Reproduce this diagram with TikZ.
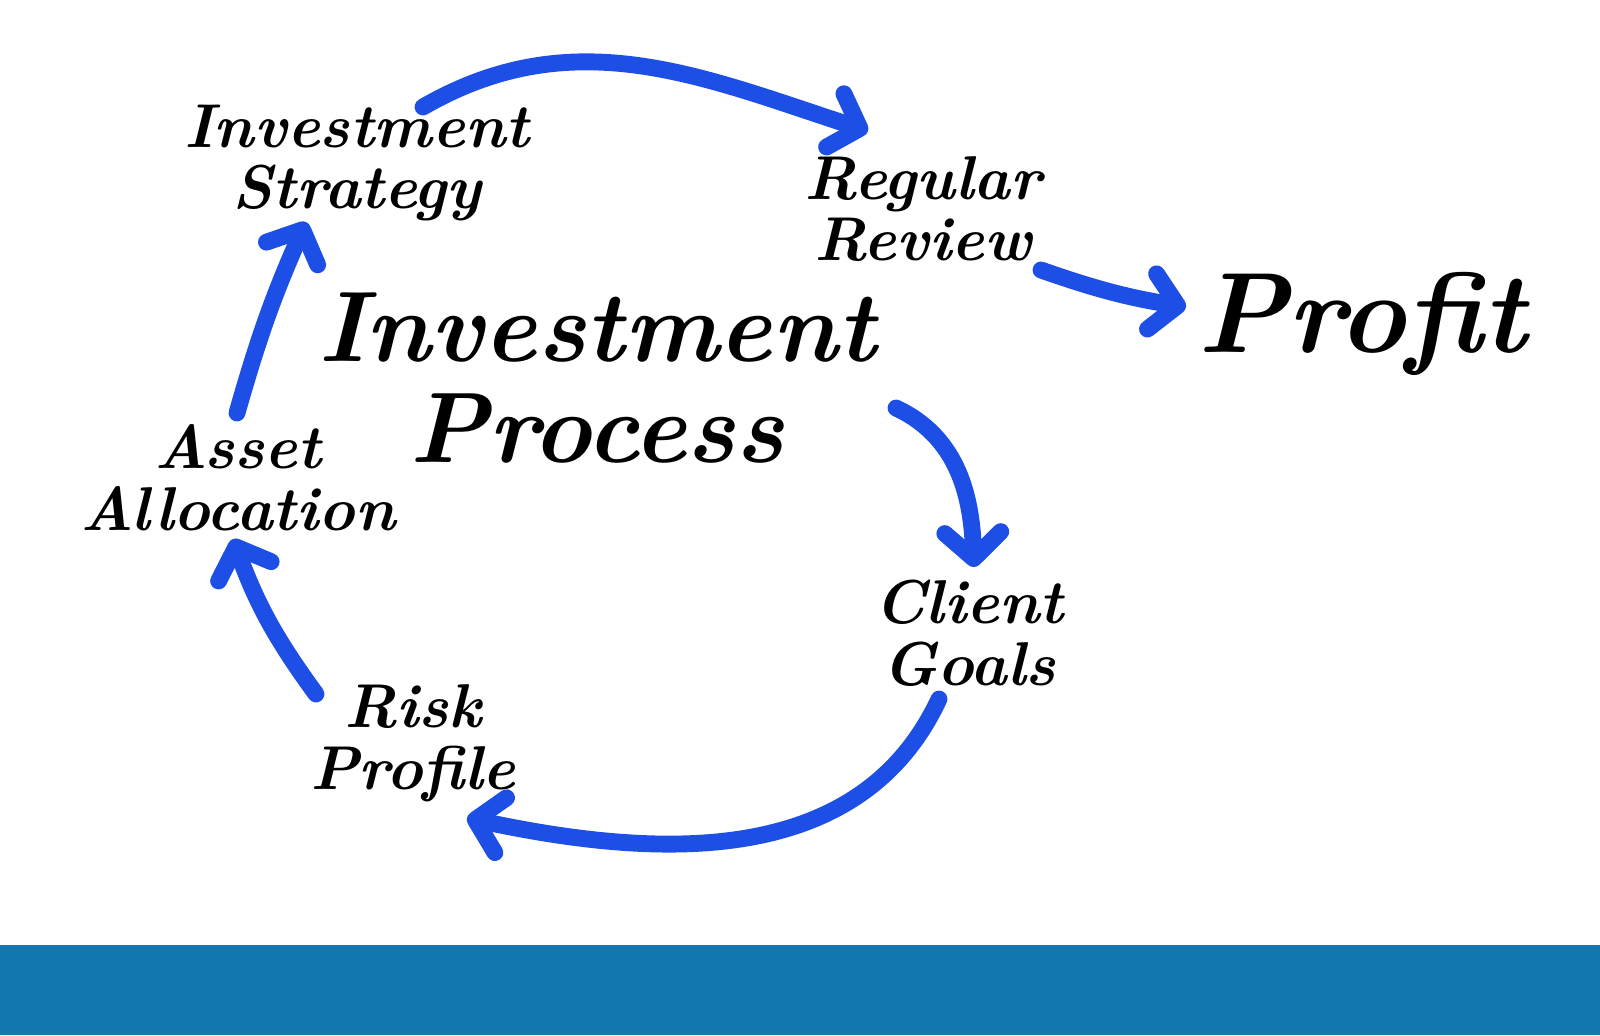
\documentclass[tikz,border=0pt]{standalone}
\usetikzlibrary{arrows.meta}
\definecolor{arrowblue}{HTML}{1D4FE6}
\definecolor{barblue}{HTML}{1177AE}
\begin{document}
\begin{tikzpicture}[>={Straight Barb[length=2.6mm,width=5.6mm,round]},
  flow/.style={->,line width=4.8pt,line cap=round,arrowblue},
  step label/.style={align=center,font=\fontsize{17.6}{17.6}\selectfont\bfseries\itshape,inner sep=0pt},
  big label/.style={align=center,font=\fontsize{28.5}{29}\selectfont\bfseries\itshape,inner sep=0pt}]

\useasboundingbox (0,0) rectangle (16,10.35);
\fill [barblue] (0,0) rectangle (16,0.90);

\node [step label] at (3.57,8.72) (strat) {Investment\\Strategy};
\node [step label] at (9.23,8.26) (review) {Regular\\Review};
\node [big label,font=\fontsize{32.5}{33}\selectfont\bfseries\itshape] at (13.62,7.11) (profit) {Profit};
\node [big label] at (5.97,6.57) (process) {Investment\\Process};
\node [step label] at (2.38,5.57) (asset) {Asset\\Allocation};
\node [step label] at (9.69,4.02) (goals) {Client\\Goals};
\node [step label] at (4.13,2.92) (risk) {Risk\\Profile};

% arrow ends
\coordinate (strat out) at (4.23,9.28);
\coordinate (review in) at (8.68,9.04);
\coordinate (review out) at (10.41,7.65);
\coordinate (profit in) at (11.86,7.28);
\coordinate (process out) at (8.96,6.27);
\coordinate (goals in) at (9.74,4.68);
\coordinate (goals out) at (9.39,3.36);
\coordinate (risk in) at (4.67,2.17);
\coordinate (risk out) at (3.16,3.41);
\coordinate (asset in) at (2.33,4.96);
\coordinate (asset out) at (2.37,6.22);
\coordinate (strat in) at (3.06,8.13);

\draw [flow] (strat out) to [out=30,in=162] (review in);
\draw [flow] (review out) to [bend right=5] (profit in);
\draw [flow] (process out) to [out=-25,in=92] (goals in);
\draw [flow] (goals out) to [out=-115,in=-12] (risk in);
\draw [flow] (risk out) to [bend left=8] (asset in);
\draw [flow] (asset out) to [bend left=4] (strat in);

\end{tikzpicture}
\end{document}
